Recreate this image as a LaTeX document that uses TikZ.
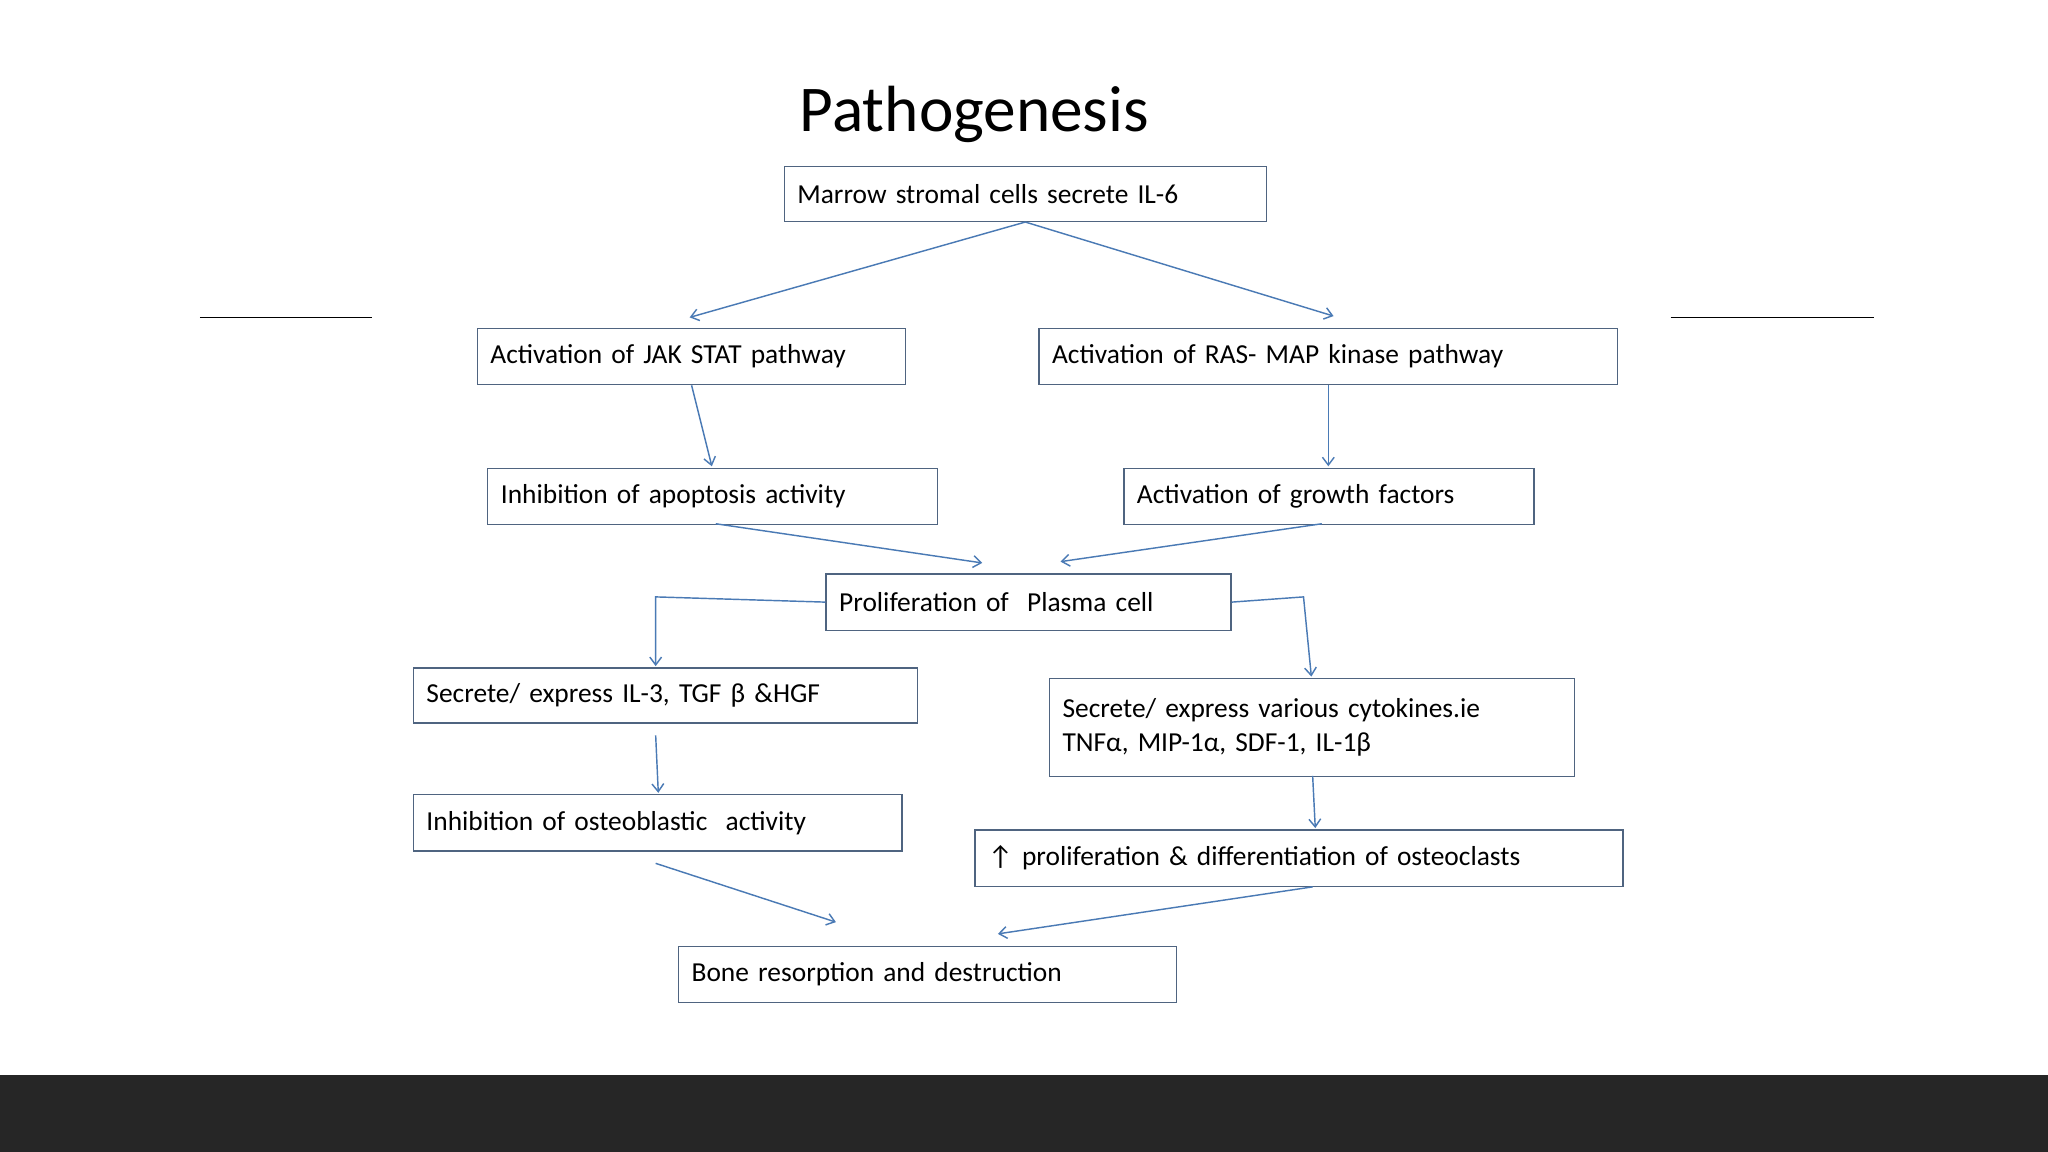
\documentclass[tikz,border=0pt]{standalone}
\usepackage{fontspec}
\setmainfont{Carlito}
\usetikzlibrary{arrows.meta}
\definecolor{arr}{HTML}{4A7AB5}
\definecolor{bx}{HTML}{4F6480}
\definecolor{bar}{HTML}{262626}
\begin{document}
\begin{tikzpicture}[x=1pt,y=-1pt,
  bx/.style={draw=bx,line width=1pt,anchor=north west,inner sep=0pt,align=left,font=\fontsize{21}{26}\selectfont},
  ar/.style={draw=arr,line width=1.1pt,-{Straight Barb[length=6pt,width=9pt]}}]
\useasboundingbox (0,0) rectangle (1568,882);
\fill[white] (0,0) rectangle (1568,882);
\fill[bar] (0,823) rectangle (1568,882);
\draw[line width=1pt] (153,243) -- (285,243);
\draw[line width=1pt] (1279,243) -- (1435,243);
\node[font=\fontsize{50}{58}\selectfont] (title) at (746,88) {Pathogenesis};
\newcommand\bxn[6]{\node[bx,minimum width=#4-#2,minimum height=#5-#3,text width=#4-#2-20] (#1) at (#2,#3) {#6};}
\bxn{m}{600}{127}{969}{169}{Marrow stromal cells secrete IL-6}
\bxn{jak}{365}{251}{693}{294}{Activation of JAK STAT pathway}
\bxn{ras}{795}{251}{1238}{294}{Activation of RAS- MAP kinase pathway}
\bxn{apo}{373}{358}{717}{401}{Inhibition of apoptosis activity}
\bxn{gro}{860}{358}{1174}{401}{Activation of growth factors}
\bxn{pro}{632}{439}{942}{482}{Proliferation of~ Plasma cell}
\bxn{il}{316}{511}{702}{553}{Secrete/ express IL-3, TGF β \&HGF}
\bxn{cyt}{803}{519}{1205}{594}{Secrete/ express various cytokines.ie\\TNFα, MIP-1α, SDF-1, IL-1β}
\bxn{ob}{316}{608}{690}{651}{Inhibition of osteoblastic~ activity}
\bxn{oc}{746}{635}{1242}{678}{↑ proliferation \& differentiation of osteoclasts}
\bxn{bone}{519}{724}{900}{767}{Bone resorption and destruction}
\coordinate (t1) at (528,243); \coordinate (t2) at (1021,242);
\draw[ar] (m.south) ++(0,0) -- (t1);
\draw[ar] (m.south) -- (t2);
\draw[ar] (jak.south) -- (545,357);
\draw[ar] (ras.south) -- (1017,357);
\draw[ar] (548,401) -- (752,431);
\draw[ar] (1012,401) -- (812,430);
\draw[ar] (pro.west) -- (502,457) -- (502,510);
\draw[ar] (pro.east) -- (998,457) -- (1004,518);
\draw[ar] (502,563) -- (504,607);
\draw[ar] (1005,594) -- (1007,634);
\draw[ar] (502,661) -- (640,706);
\draw[ar] (1005,679) -- (764,715);
\end{tikzpicture}
\end{document}
